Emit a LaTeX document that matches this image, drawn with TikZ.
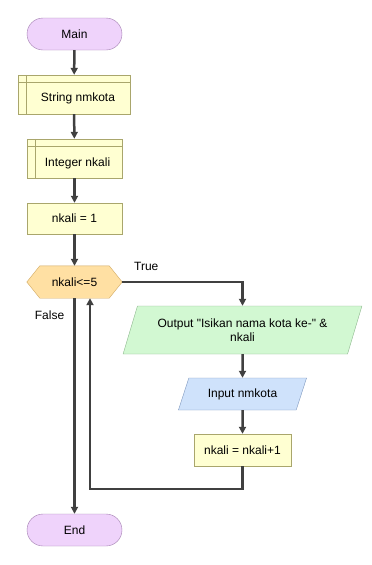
\documentclass[tikz,border=0pt]{standalone}
\usepackage{fontspec}
\setmainfont{Liberation Sans}
\usepackage{tikz}
\usetikzlibrary{arrows.meta,shapes.geometric,backgrounds}
\definecolor{termfill}{HTML}{EFD3FB}
\definecolor{termline}{HTML}{A07DAE}
\definecolor{procfill}{HTML}{FFFFD2}
\definecolor{procline}{HTML}{A9A66C}
\definecolor{condfill}{HTML}{FFE0A3}
\definecolor{condline}{HTML}{CFA75F}
\definecolor{outfill}{HTML}{D2F8D2}
\definecolor{outline}{HTML}{8DB78D}
\definecolor{infill}{HTML}{CFE2FB}
\definecolor{inline}{HTML}{7F98BE}
\definecolor{flowgray}{HTML}{404040}

\tikzset{
  every node/.style={font=\fontsize{12}{14}\selectfont, inner sep=0pt},
  term/.style={draw=termline, fill=termfill, rounded corners=16pt,
    minimum width=95pt, minimum height=32pt},
  proc/.style={draw=procline, fill=procfill, minimum width=95pt, minimum height=31pt},
  predef/.style={draw=procline, fill=procfill, minimum height=39pt},
  outbox/.style={draw=outline, fill=outfill, trapezium, trapezium left angle=63,
    trapezium right angle=117, trapezium stretches=true,
    minimum width=239pt, minimum height=48pt, align=center},
  inbox/.style={draw=inline, fill=infill, trapezium, trapezium left angle=59,
    trapezium right angle=121, trapezium stretches=true,
    minimum width=129pt, minimum height=32pt},
  flow/.style={draw=flowgray, line width=2.5pt, -{Triangle[width=7pt,length=7pt]}},
}

\begin{document}
\begin{tikzpicture}[x=1pt,y=-1pt]
  \useasboundingbox (0,0) rectangle (372,565);

  % left column
  \node[term] (main) at (74.5,34) {Main};
  \node[predef, minimum width=112pt,
    label={[shift={(4pt,-3.5pt)}]center:String nmkota}] (str) at (74,94.5) {};
  \draw[procline] ([xshift=8pt]str.north west) -- ([xshift=8pt]str.south west);
  \draw[procline] ([yshift=-7pt]str.north west) -- ([yshift=-7pt]str.north east);
  \node[predef, minimum width=95pt,
    label={[shift={(3pt,-4.5pt)}]center:Integer nkali}] (int) at (74.5,158.5) {};
  \draw[procline] ([xshift=8pt]int.north west) -- ([xshift=8pt]int.south west);
  \draw[procline] ([yshift=-7pt]int.north west) -- ([yshift=-7pt]int.north east);
  \node[proc] (init) at (74.5,218.5) {nkali = 1};

  % decision
  \node[minimum width=95pt, minimum height=32pt] (cond) at (74.5,282) {nkali<=5};
  \begin{scope}[on background layer]
    \filldraw[draw=condline, fill=condfill] (cond.west) -- ([xshift=13pt]cond.north west)
      -- ([xshift=-13pt]cond.north east) -- (cond.east)
      -- ([xshift=-13pt]cond.south east) -- ([xshift=13pt]cond.south west) -- cycle;
  \end{scope}

  % loop body
  \node[outbox] (out) at (242.5,330)
    {Output \textquotedbl Isikan nama kota ke-\textquotedbl{} \&\\nkali};
  \node[inbox] (inp) at (242.5,394) {Input nmkota};
  \node[proc, minimum width=97pt, minimum height=32pt] (inc) at (242.5,450) {nkali = nkali+1};

  \node[term] (end) at (74.5,530) {End};

  % connectors
  \draw[flow] (main) -- (str);
  \draw[flow] (str) -- (int);
  \draw[flow] (int) -- (init);
  \draw[flow] (init) -- (cond);
  \draw[flow] (cond.east) -| node[pos=0.1, above, yshift=10pt] {True} (out.north);
  \draw[flow] (out) -- (inp);
  \draw[flow] (inp) -- (inc);
  \coordinate (back) at (90,489);
  \draw[flow] (inc.south) |- (back) -- (back |- cond.south);
  \draw[flow] (cond.south) -- node[pos=0.08, left, xshift=-9pt] {False} (end.north);
\end{tikzpicture}
\end{document}
